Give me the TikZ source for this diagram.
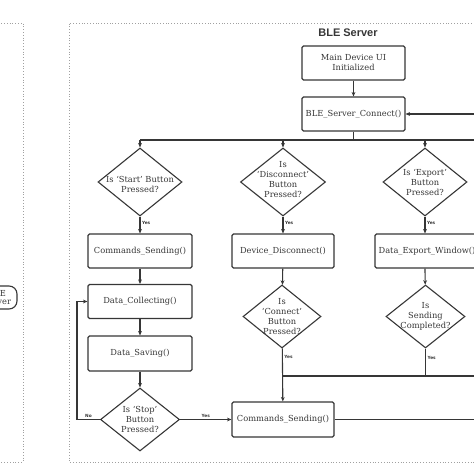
\documentclass[tikz,border=0pt]{standalone}
\usepackage{fontspec}
\setmainfont{DejaVu Serif}
\setsansfont{Liberation Sans}
\newfontfamily\tagfont{DejaVu Sans}
\usepackage{xcolor}
\usetikzlibrary{shapes.geometric,arrows.meta}

\definecolor{ink}{HTML}{363636}
\definecolor{lanegray}{HTML}{A0A0A0}

\tikzset{
    proc/.style={draw=ink, line width=1.1pt, rounded corners=1.5pt, minimum width=103pt,
        minimum height=34pt, inner sep=0pt, align=center, text=ink,
        font=\fontsize{8.3}{10}\selectfont},
    ask/.style={draw=ink, line width=1.1pt, diamond, inner sep=0pt,
        minimum width=84pt, minimum height=68pt},
    asktext/.style={align=center, text=ink, inner sep=0pt, font=\fontsize{8.3}{10}\selectfont},
    flow/.style={draw=ink, line width=1.1pt, -{Stealth[length=4.5pt,width=3.8pt]}},
    wire/.style={draw=ink, line width=1.1pt},
    tag/.style={text=ink, inner sep=1.5pt, font=\tagfont\bfseries\fontsize{4.3}{4.3}\selectfont},
    lane/.style={draw=lanegray, dotted, line width=0.8pt}
}

\begin{document}
\begin{tikzpicture}[x=1pt, y=-1pt]
    \useasboundingbox (0,0) rectangle (474,474);
    \clip (0,0) rectangle (474,474);

    % lanes
    \draw[lane] (-10,23) -- (23,23) -- (23,462) -- (-10,462);
    \draw[lane] (480,23) -- (69,23) -- (69,462) -- (480,462);
    \node[font=\sffamily\bfseries\fontsize{11}{13}\selectfont, text=ink] (title) at (348,33) {BLE Server};

    % client side, cut by the page edge
    \node[draw=ink, line width=1.1pt, rounded corners=8pt, minimum width=40pt, minimum height=23pt,
        align=center, inner sep=0pt, text=ink, font=\fontsize{8.3}{8}\selectfont] (client) at (-3,297.5) {BLE\\Server};

    \node[proc] (ui) at (353.5,63) {Main Device UI\\Initialized};
    \node[proc] (conn) at (353.5,114) {BLE\_Server\_Connect()};

    \node[ask] (start) at (140,182) {};
    \node[asktext] (start-t) at (140,184) {Is `Start' Button\\Pressed?};
    \node[ask, minimum width=85pt] (disc) at (283,182) {};
    \node[asktext] (disc-t) at (283,180) {Is\\`Disconnect'\\Button\\Pressed?};
    \node[ask] (export) at (425,182) {};
    \node[asktext] (export-t) at (425,182) {Is `Export'\\Button\\Pressed?};

    \node[proc, minimum width=104pt] (cmd) at (140,251) {Commands\_Sending()};
    \node[proc, minimum width=102pt] (dev) at (283,251) {Device\_Disconnect()};
    \node[proc, minimum width=104pt] (win) at (427,251) {Data\_Export\_Window()};

    \node[proc, minimum width=104pt] (collect) at (140,301.5) {Data\_Collecting()};
    \node[proc, minimum width=104pt, minimum height=35pt] (save) at (140,353.5) {Data\_Saving()};
    \node[ask, minimum width=79pt, minimum height=63pt] (stop) at (140,419.5) {};
    \node[asktext] (stop-t) at (140,419.5) {Is `Stop'\\Button\\Pressed?};

    \node[ask, minimum width=78pt, minimum height=63pt] (reconn) at (282,316.5) {};
    \node[asktext] (reconn-t) at (282,316.5) {Is\\`Connect'\\Button\\Pressed?};
    \node[ask, minimum width=79pt, minimum height=63pt] (done) at (425.5,316.5) {};
    \node[asktext] (done-t) at (425.5,316.5) {Is\\Sending\\Completed?};

    \node[proc, minimum width=102pt, minimum height=35pt] (cmd2) at (283,419.5) {Commands\_Sending()};

    % bus lines
    \coordinate (busL) at (140,140);
    \coordinate (busR) at (480,140);
    \coordinate (back) at (480,114);
    \coordinate (joinR) at (480,376);
    \coordinate (outR) at (480,419.5);
    \coordinate (noL) at (77,419.5);

    \draw[flow] (ui) -- (conn);
    \draw[flow] (back) -- (conn);
    \draw[wire] (conn) -- (conn.south |- busL);
    \draw[wire] (busL) -- (busR);
    \draw[flow] (busL) -- (start);
    \draw[flow] (disc.north |- busL) -- (disc);
    \draw[flow] (export.north |- busL) -- (export);

    \draw[flow] (start) -- node[tag, right, pos=0.35] (y1) {Yes} (cmd);
    \draw[flow] (disc) -- node[tag, right, pos=0.35] (y2) {Yes} (dev);
    \draw[flow] (export) -- node[tag, right, pos=0.35] (y3) {Yes} (export |- win.north);

    \draw[flow] (cmd) -- (collect);
    \draw[flow] (collect) -- (save);
    \draw[flow] (save) -- (stop);
    \draw[flow] (dev) -- (reconn);
    \draw[flow] (export |- win.south) -- (done);

    \draw[flow] (stop.west) -- node[tag, above] (no) {No} (noL) |- (collect.west);
    \draw[flow] (stop.east) -- node[tag, above] (y4) {Yes} (cmd2.west);

    \draw[flow] (reconn) -- node[tag, right, pos=0.17] (y5) {Yes} (cmd2);
    \draw[wire] (done) -- node[tag, right, pos=0.35] (y6) {Yes} (done |- joinR);
    \draw[wire] (reconn |- joinR) -- (joinR);
    \draw[wire] (cmd2) -- (outR);
\end{tikzpicture}
\end{document}
